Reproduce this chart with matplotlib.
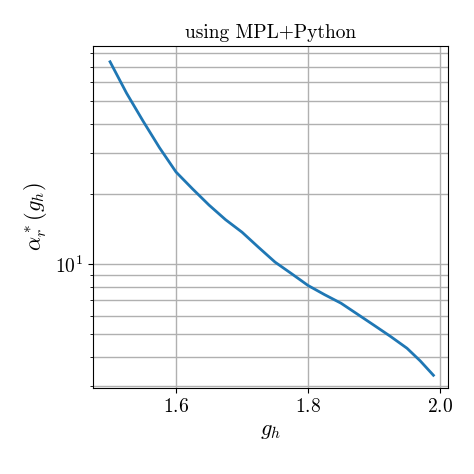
import numpy as np
import matplotlib
matplotlib.use("Agg")
import matplotlib.pyplot as plt
from matplotlib.ticker import NullFormatter, LogLocator

plt.rcParams['font.family'] = 'serif'
plt.rcParams['font.serif'] = ['cmr10']
plt.rcParams['mathtext.fontset'] = 'cm'
plt.rcParams['axes.formatter.use_mathtext'] = True

g_h = [1.50, 1.525, 1.55, 1.575, 1.60, 1.625, 1.65, 1.675, 1.70, 1.725, 1.75,
       1.775, 1.80, 1.825, 1.85, 1.875, 1.90, 1.925, 1.95, 1.97, 1.99]
alpha = [73.6, 54.0, 41.0, 31.5, 24.8, 21.0, 17.9, 15.5, 13.7, 11.8, 10.2,
         9.1, 8.1, 7.4, 6.8, 6.1, 5.47, 4.9, 4.36, 3.85, 3.34]

fig = plt.figure(figsize=(4.74, 4.74), dpi=100)
ax = fig.add_axes([0.196, 0.181, 0.749, 0.722])
ax.plot(g_h, alpha, color='#1f77b4', lw=2)
ax.set_yscale('log')
ax.set_xlim(1.474, 2.012)
ax.set_ylim(2.94, 86)
ax.set_xticks([1.6, 1.8, 2.0])
ax.yaxis.set_minor_formatter(NullFormatter())
ax.grid(True, which='both', color='#b0b0b0', lw=1)
ax.set_xlabel(r'$g_h$', fontsize=16)
ax.set_ylabel(r'$\alpha_r^*(g_h)$', fontsize=16)
ax.set_title('using MPL+Python', fontsize=14)
ax.tick_params(labelsize=14)
fig.savefig('out.png', dpi=100)
